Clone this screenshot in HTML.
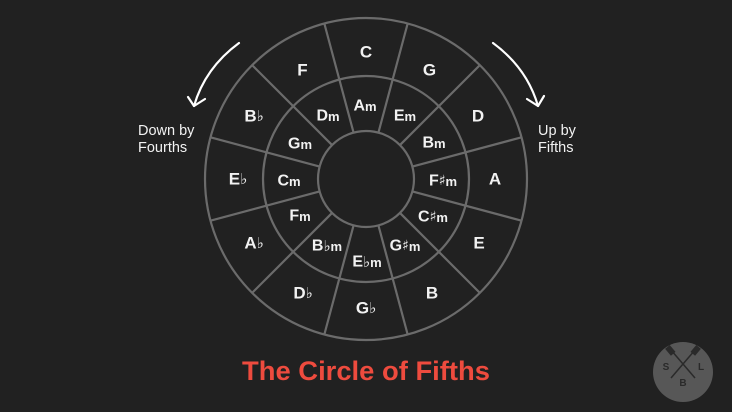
<!DOCTYPE html>
<html><head><meta charset="utf-8"><style>
html,body{margin:0;padding:0;background:#212121;}
svg{display:block;font-family:"Liberation Sans","DejaVu Sans",sans-serif;}
.M{font-size:17px;font-weight:bold;fill:#f2f2f2;}
.m{font-size:16px;font-weight:bold;fill:#f2f2f2;}
.s{font-size:13px;}
.f{font-family:"DejaVu Sans",sans-serif;font-size:15px;font-weight:normal;}
.h{font-family:"DejaVu Sans",sans-serif;font-size:14px;font-weight:bold;}
</style></head><body>
<svg width="732" height="412" viewBox="0 0 732 412" xmlns="http://www.w3.org/2000/svg">
<rect width="732" height="412" fill="#212121"/>
<g fill="none" stroke="#6b6b6b" stroke-width="2.2">
<circle cx="366" cy="179" r="161"/>
<circle cx="366" cy="179" r="103"/>
<circle cx="366" cy="179" r="48"/>
<g>
<line x1="366" y1="131" x2="366" y2="18" transform="rotate(15 366 179)"/>
<line x1="366" y1="131" x2="366" y2="18" transform="rotate(45 366 179)"/>
<line x1="366" y1="131" x2="366" y2="18" transform="rotate(75 366 179)"/>
<line x1="366" y1="131" x2="366" y2="18" transform="rotate(105 366 179)"/>
<line x1="366" y1="131" x2="366" y2="18" transform="rotate(135 366 179)"/>
<line x1="366" y1="131" x2="366" y2="18" transform="rotate(165 366 179)"/>
<line x1="366" y1="131" x2="366" y2="18" transform="rotate(195 366 179)"/>
<line x1="366" y1="131" x2="366" y2="18" transform="rotate(225 366 179)"/>
<line x1="366" y1="131" x2="366" y2="18" transform="rotate(255 366 179)"/>
<line x1="366" y1="131" x2="366" y2="18" transform="rotate(285 366 179)"/>
<line x1="366" y1="131" x2="366" y2="18" transform="rotate(315 366 179)"/>
<line x1="366" y1="131" x2="366" y2="18" transform="rotate(345 366 179)"/>
</g>
</g>
<g class="M" text-anchor="middle" dominant-baseline="central">
<text x="366" y="52">C</text>
<text x="429.5" y="70">G</text>
<text x="478" y="116">D</text>
<text x="495" y="179">A</text>
<text x="479" y="243">E</text>
<text x="432" y="293">B</text>
<text x="366" y="308">G<tspan class="f">♭</tspan></text>
<text x="303" y="293">D<tspan class="f">♭</tspan></text>
<text x="254" y="243">A<tspan class="f">♭</tspan></text>
<text x="238" y="179">E<tspan class="f">♭</tspan></text>
<text x="254" y="116">B<tspan class="f">♭</tspan></text>
<text x="302.5" y="70">F</text>
</g>
<g class="m" text-anchor="middle" dominant-baseline="central">
<text x="365" y="106">A<tspan class="s">m</tspan></text>
<text x="405" y="116">E<tspan class="s">m</tspan></text>
<text x="434" y="143">B<tspan class="s">m</tspan></text>
<text x="443" y="181">F<tspan class="h">♯</tspan><tspan class="s">m</tspan></text>
<text x="433" y="217">C<tspan class="h">♯</tspan><tspan class="s">m</tspan></text>
<text x="405" y="246">G<tspan class="h">♯</tspan><tspan class="s">m</tspan></text>
<text x="367" y="262">E<tspan class="f">♭</tspan><tspan class="s">m</tspan></text>
<text x="327" y="246">B<tspan class="f">♭</tspan><tspan class="s">m</tspan></text>
<text x="300" y="216">F<tspan class="s">m</tspan></text>
<text x="289" y="181">C<tspan class="s">m</tspan></text>
<text x="300" y="144">G<tspan class="s">m</tspan></text>
<text x="328" y="116">D<tspan class="s">m</tspan></text>
</g>
<g fill="none" stroke="#ffffff" stroke-width="2.2" stroke-linecap="round" stroke-linejoin="round">
<path d="M239 43 Q205 68 194 106"/>
<path d="M188 97 L194 106 L205 99"/>
<path d="M493 43 Q527 68 538 106"/>
<path d="M527 99 L538 106 L544 96"/>
</g>
<g fill="#f2f2f2" font-size="14.5">
<text x="138" y="135">Down by</text>
<text x="138" y="152">Fourths</text>
<text x="538" y="135">Up by</text>
<text x="538" y="152">Fifths</text>
</g>
<text x="366" y="380" text-anchor="middle" font-size="27" font-weight="bold" fill="#ee4b3e" textLength="248" lengthAdjust="spacingAndGlyphs">The Circle of Fifths</text>
<g>
<circle cx="683" cy="372" r="30" fill="#575757"/>
<g stroke="#2a2a2a" stroke-width="1.5">
<line x1="671" y1="350" x2="695" y2="378"/>
<line x1="695" y1="350" x2="671" y2="378"/>
</g>
<g fill="#2a2a2a">
<rect x="667" y="346" width="6" height="9" transform="rotate(-40 670 350)"/>
<rect x="693" y="346" width="6" height="9" transform="rotate(40 696 350)"/>
</g>
<g fill="#2a2a2a" font-size="10" font-weight="bold" text-anchor="middle">
<text x="666" y="370">S</text>
<text x="701" y="370">L</text>
<text x="683" y="386">B</text>
</g>
</g>
</svg>
</body></html>
